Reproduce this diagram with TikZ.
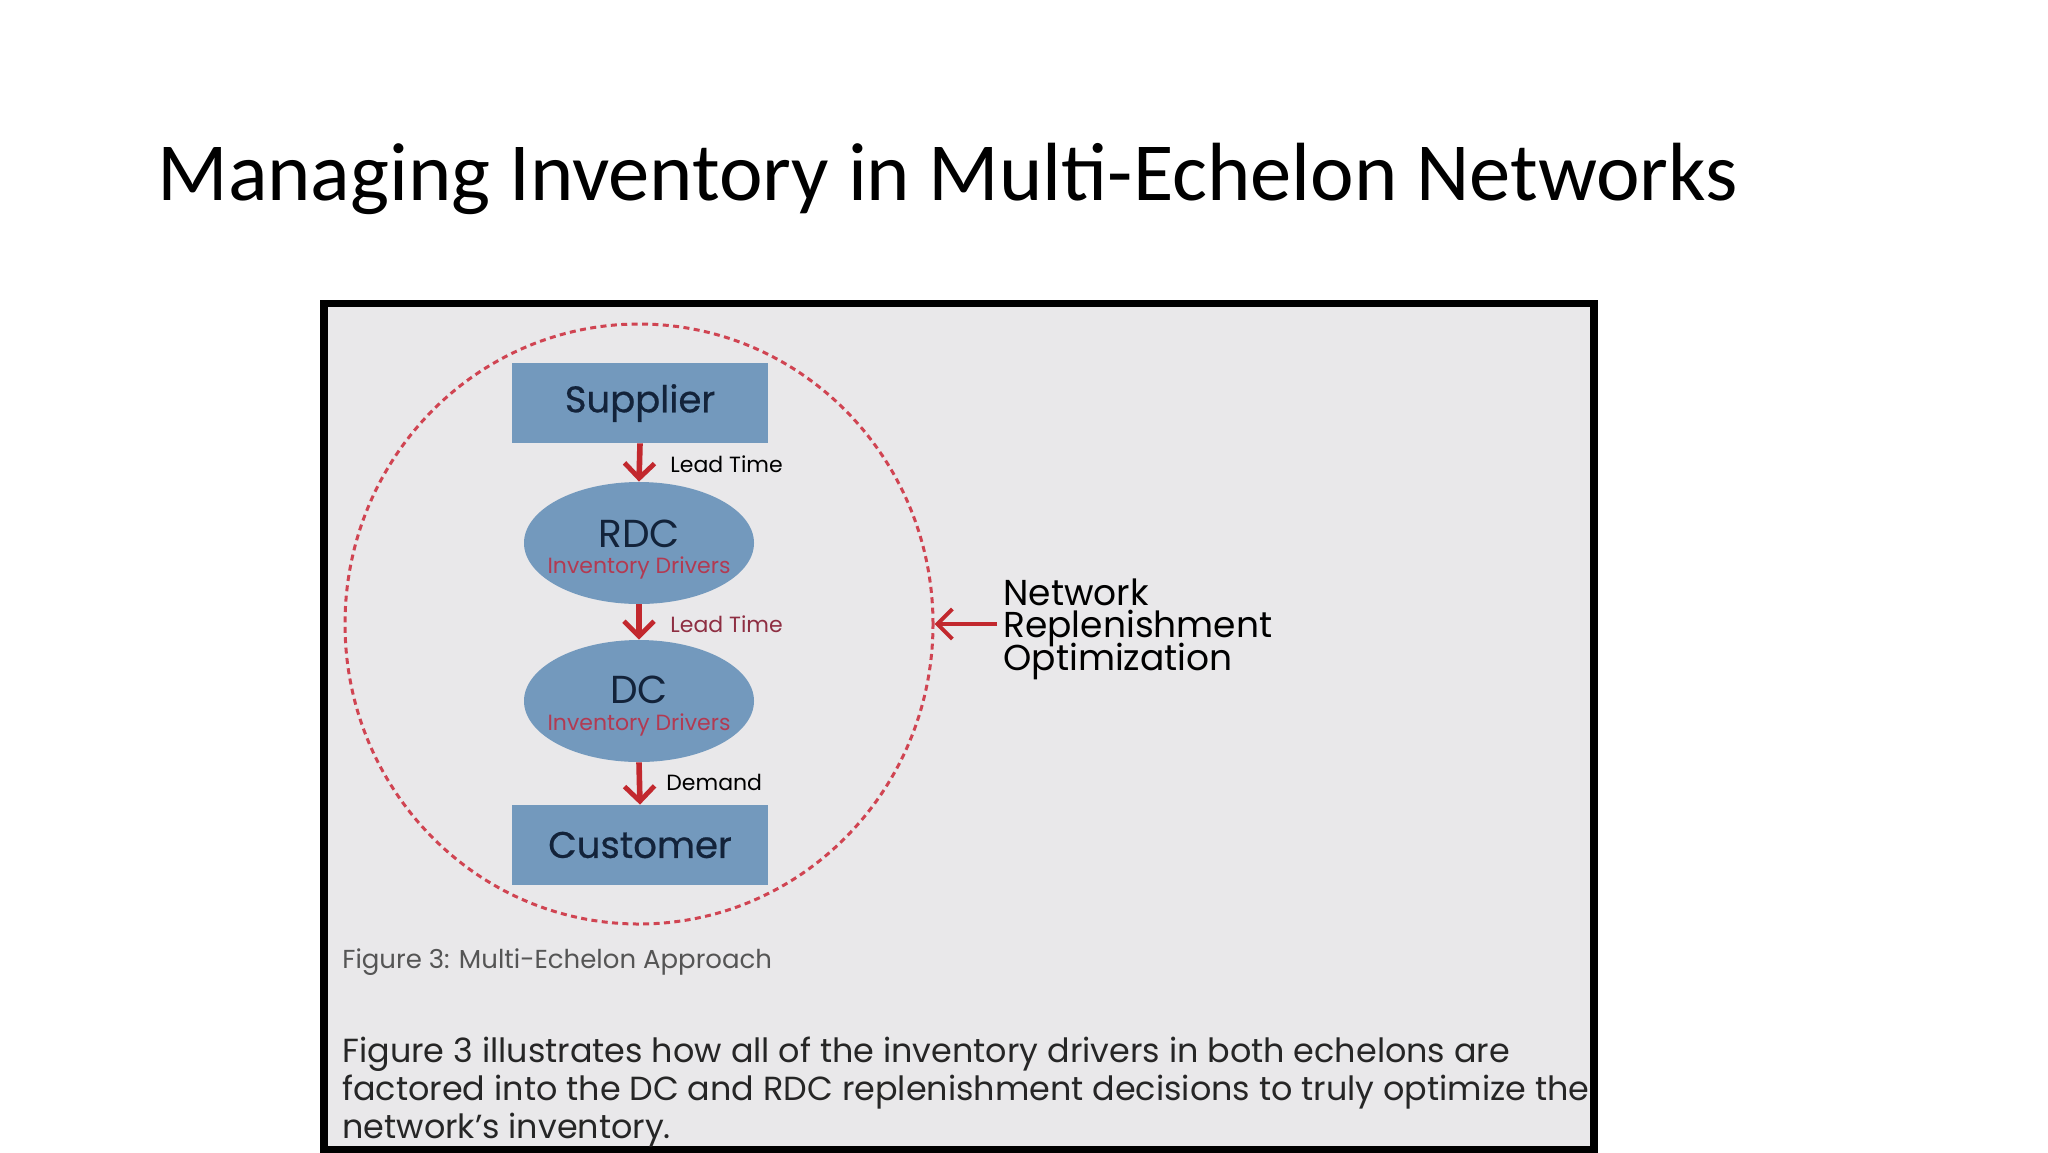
\documentclass[tikz,border=0pt]{standalone}
\usepackage{fontspec}
\setmainfont{Poppins}
\newfontfamily\medfont{Poppins}[FakeBold=0.6]
\newfontfamily\titlefont{Carlito}
\usetikzlibrary{shapes.geometric,arrows.meta}
\definecolor{boxgray}{HTML}{E9E8EA}
\definecolor{nodeblue}{HTML}{7399BD}
\definecolor{navy}{HTML}{13233A}
\definecolor{arrred}{HTML}{C2282E}
\definecolor{drvred}{HTML}{B23A52}
\definecolor{dashred}{HTML}{D04452}
\definecolor{capgray}{HTML}{555555}
\tikzset{
  x=0.5pt, y=-0.5pt,
  boxnode/.style={rectangle, fill=nodeblue, minimum width=128pt, minimum height=40pt, inner sep=0pt, text=navy, font=\medfont\fontsize{18.5}{20}\selectfont},
  ovalnode/.style={ellipse, fill=nodeblue, minimum width=115pt, minimum height=61pt, inner sep=0pt},
  ovaltitle/.style={anchor=base, inner sep=0pt, text depth=0pt, text=navy, font=\fontsize{19.5}{20}\selectfont},
  drivers/.style={anchor=base, inner sep=0pt, text height=7.2pt, text=drvred, font=\fontsize{11}{12}\selectfont},
  flow/.style={draw=arrred, line width=2.8pt, -{Straight Barb[length=7.5pt, width=15pt, line width=2.4pt]}},
  flowlabel/.style={anchor=west, font=\fontsize{11}{12}\selectfont, inner sep=0pt},
  nroline/.style={anchor=base west, inner sep=0pt, font=\fontsize{18}{20}\selectfont},
  netring/.style={ellipse, draw=dashred, line width=1.5pt, dash pattern=on 3pt off 2.2pt, minimum width=294pt, minimum height=300pt, inner sep=0pt}
}
\begin{document}
\begin{tikzpicture}
\useasboundingbox (0,0) rectangle (2048,1152);
\fill[white] (0,0) rectangle (2048,1152);
% title
\node[anchor=base west, inner sep=0pt, font=\titlefont\fontsize{41.3}{50}\selectfont] (title) at (157,200) {Managing Inventory in Multi-Echelon Networks};
% framed picture
\draw[line width=3.6pt, fill=boxgray] (324,303.5) rectangle (1594,1149.5);
% outer dashed ring
\node[netring] (ring) at (639,624) {};
% nodes
\node[boxnode] (sup) at (640,403) {Supplier};
\node[ovalnode] (rdc) at (639,543) {};
\node[ovaltitle] (rdct) at (639,547) {RDC};
\node[drivers] (rdcd) at (639,573) {Inventory Drivers};
\node[ovalnode] (dc) at (639,701) {};
\node[ovaltitle] (dct) at (639,703) {DC};
\node[drivers] (dcd) at (639,730) {Inventory Drivers};
\node[boxnode] (cus) at (640,845) {Customer};
% flows
\draw[flow] (sup.south) -- (rdc.north);
\draw[flow] (rdc.south) -- (dc.north);
\draw[flow] (dc.south) -- (cus.north);
\node[flowlabel] (lt1) at (670,464) {Lead Time};
\node[flowlabel, text=drvred!80!black] (lt2) at (670,624) {Lead Time};
\node[flowlabel] (dem) at (666,782) {Demand};
% network replenishment optimization
\node[nroline] (nro1) at (1003,605) {Network};
\node[nroline] (nro2) at (1003,637) {Replenishment};
\node[nroline] (nro3) at (1003,670) {Optimization};
\coordinate (nrotail) at (997,624);
\draw[draw=arrred, line width=2.2pt, -{Straight Barb[length=7.5pt, width=15pt, line width=2pt]}] (nrotail) -- (ring.east);
% caption and paragraph
\node[anchor=base west, inner sep=0pt, text=capgray, font=\fontsize{13}{14}\selectfont] (cap) at (342,968) {Figure 3: Multi-Echelon Approach};
\node[anchor=base west, align=left, inner sep=0pt, text=black!85, font=\fontsize{16.7}{19}\selectfont] (para) at (342,1138) {Figure 3 illustrates how all of the inventory drivers in both echelons are\\factored into the DC and RDC replenishment decisions to truly optimize the\\network’s inventory.};
\end{tikzpicture}
\end{document}
